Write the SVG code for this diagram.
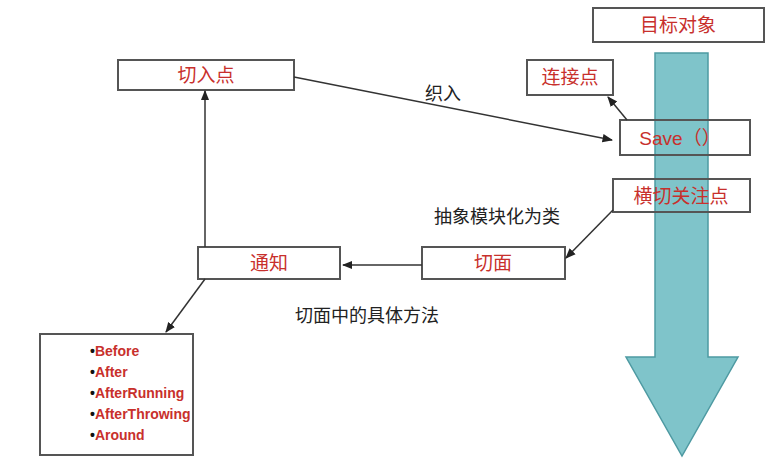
<svg xmlns="http://www.w3.org/2000/svg" width="777" height="471" viewBox="0 0 777 471">
<defs>
<marker id="ah" viewBox="0 0 10 10" refX="9" refY="5" markerWidth="7" markerHeight="7" orient="auto-start-reverse"><path d="M0,1 L10,5 L0,9 z" fill="#222"/></marker>
<style>
.b{fill:none;stroke:#555;stroke-width:2}
.w{fill:#fff;stroke:#555;stroke-width:2}
.t{font-family:"Liberation Sans","Noto Sans CJK SC",sans-serif;font-size:19px;fill:#c8302c;text-anchor:middle}
.k{font-family:"Liberation Sans","Noto Sans CJK SC",sans-serif;font-size:18px;fill:#222;text-anchor:middle}
.l{font-family:"Liberation Sans",sans-serif;font-size:14px;font-weight:bold;fill:#c8302c}
.d{fill:#111}
.c{stroke:#333;stroke-width:1.5;fill:none;marker-end:url(#ah)}
</style>
</defs>
<rect width="777" height="471" fill="#fff"/>
<path d="M655,53 L708,53 L708,357 L738,357 L682,456 L626,357 L655,357 Z" fill="#7fc4ca" stroke="#4e9aa2" stroke-width="1.5"/>
<g id="target"><rect class="w" x="593" y="8" width="171" height="34"/><text class="t" x="678" y="32">目标对象</text></g>
<g id="joinpoint"><rect class="w" x="527" y="60" width="86" height="35"/><text class="t" x="570" y="84">连接点</text></g>
<g id="save"><rect class="b" x="620" y="120" width="130" height="35"/><text class="t" x="680" y="145" font-size="21">Save（）</text></g>
<g id="concern"><rect class="b" x="613" y="179" width="137" height="33"/><text class="t" x="681" y="203">横切关注点</text></g>
<g id="pointcut"><rect class="w" x="118" y="60" width="176" height="30"/><text class="t" x="206" y="82">切入点</text></g>
<g id="advice"><rect class="w" x="198" y="247" width="142" height="32"/><text class="t" x="269" y="270">通知</text></g>
<g id="aspect"><rect class="w" x="422" y="247" width="143" height="32"/><text class="t" x="493" y="270">切面</text></g>
<g id="list"><rect class="w" x="40" y="334" width="153" height="121"/>
<text class="l" x="90" y="356"><tspan class="d">•</tspan>Before</text>
<text class="l" x="90" y="377"><tspan class="d">•</tspan>After</text>
<text class="l" x="90" y="398"><tspan class="d">•</tspan>AfterRunning</text>
<text class="l" x="90" y="419"><tspan class="d">•</tspan>AfterThrowing</text>
<text class="l" x="90" y="440"><tspan class="d">•</tspan>Around</text></g>
<g id="connectors">
<line class="c" x1="294" y1="77" x2="612" y2="140"/>
<line class="c" x1="627" y1="120" x2="608" y2="97"/>
<line class="c" x1="613" y1="210" x2="566" y2="258"/>
<line class="c" x1="422" y1="265" x2="343" y2="265"/>
<line class="c" x1="205" y1="247" x2="205" y2="91"/>
<line class="c" x1="205" y1="279" x2="166" y2="332"/>
</g>
<text class="k" x="443" y="100">织入</text>
<text class="k" x="497" y="223">抽象模块化为类</text>
<text class="k" x="367" y="322">切面中的具体方法</text>
</svg>
